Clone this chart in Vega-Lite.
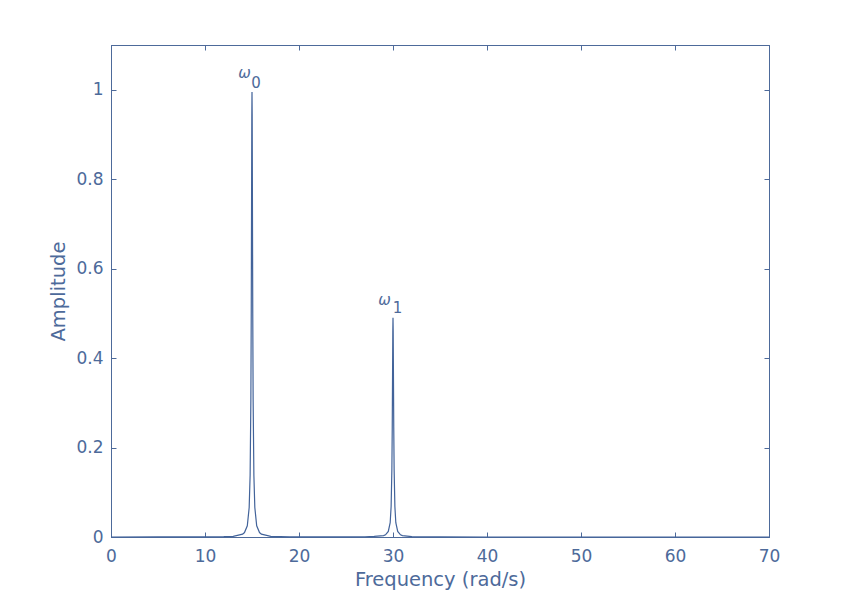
{
  "$schema": "https://vega.github.io/schema/vega-lite/v6.json",
  "width": 658,
  "height": 492,
  "autosize": "none",
  "padding": {"left": 111, "top": 45, "right": 81, "bottom": 67},
  "background": "white",
  "config": {
    "view": {"stroke": "#4d6a9a", "strokeWidth": 1},
    "font": "DejaVu Sans",
    "axis": {
      "grid": false,
      "domainColor": "#4d6a9a",
      "tickColor": "#4d6a9a",
      "labelColor": "#4d6a9a",
      "titleColor": "#4d6a9a",
      "labelFont": "DejaVu Sans",
      "titleFont": "DejaVu Sans",
      "labelFontSize": 17,
      "titleFontSize": 19.5,
      "titleFontWeight": "normal",
      "labelFlush": false,
      "tickSize": -5,
      "labelPadding": 13
    }
  },
  "datasets": {
    "spectrum": [
      {"freq": 0, "amp": 0.00003},
      {"freq": 5, "amp": 0.00006},
      {"freq": 10, "amp": 0.00026},
      {"freq": 12, "amp": 0.0007},
      {"freq": 13, "amp": 0.0016},
      {"freq": 14, "amp": 0.0064},
      {"freq": 14.2, "amp": 0.0099},
      {"freq": 14.5, "amp": 0.025},
      {"freq": 14.7, "amp": 0.066},
      {"freq": 14.8, "amp": 0.138},
      {"freq": 14.88, "amp": 0.308},
      {"freq": 14.92, "amp": 0.5},
      {"freq": 14.95, "amp": 0.719},
      {"freq": 14.98, "amp": 0.941},
      {"freq": 15, "amp": 0.995},
      {"freq": 15.02, "amp": 0.941},
      {"freq": 15.05, "amp": 0.719},
      {"freq": 15.08, "amp": 0.5},
      {"freq": 15.12, "amp": 0.308},
      {"freq": 15.2, "amp": 0.138},
      {"freq": 15.3, "amp": 0.066},
      {"freq": 15.5, "amp": 0.025},
      {"freq": 15.8, "amp": 0.0099},
      {"freq": 16, "amp": 0.0064},
      {"freq": 17, "amp": 0.0016},
      {"freq": 19, "amp": 0.0004},
      {"freq": 22, "amp": 0.00018},
      {"freq": 25, "amp": 0.0002},
      {"freq": 27, "amp": 0.0006},
      {"freq": 28, "amp": 0.0013},
      {"freq": 29, "amp": 0.0031},
      {"freq": 29.2, "amp": 0.0049},
      {"freq": 29.5, "amp": 0.0123},
      {"freq": 29.7, "amp": 0.032},
      {"freq": 29.8, "amp": 0.068},
      {"freq": 29.88, "amp": 0.151},
      {"freq": 29.92, "amp": 0.245},
      {"freq": 29.95, "amp": 0.352},
      {"freq": 29.98, "amp": 0.461},
      {"freq": 30, "amp": 0.49},
      {"freq": 30.02, "amp": 0.461},
      {"freq": 30.05, "amp": 0.352},
      {"freq": 30.08, "amp": 0.245},
      {"freq": 30.12, "amp": 0.151},
      {"freq": 30.2, "amp": 0.068},
      {"freq": 30.3, "amp": 0.032},
      {"freq": 30.5, "amp": 0.0123},
      {"freq": 30.8, "amp": 0.0049},
      {"freq": 31, "amp": 0.0031},
      {"freq": 32, "amp": 0.0008},
      {"freq": 35, "amp": 0.00015},
      {"freq": 40, "amp": 0.00005},
      {"freq": 50, "amp": 0.00002},
      {"freq": 60, "amp": 0.00001},
      {"freq": 70, "amp": 0.00001}
    ],
    "labels": [
      {"freq": 14.2, "amp": 1.027, "txt": "ω", "kind": "sym"},
      {"freq": 15.43, "amp": 1.004, "txt": "0", "kind": "sub"},
      {"freq": 29.1, "amp": 0.519, "txt": "ω", "kind": "sym"},
      {"freq": 30.48, "amp": 0.501, "txt": "1", "kind": "sub"}
    ]
  },
  "resolve": {"axis": {"x": "independent", "y": "independent"}},
  "layer": [
    {
      "data": {"name": "spectrum"},
      "mark": {"type": "line", "color": "#42639a", "strokeWidth": 1.2, "interpolate": "linear"},
      "encoding": {
        "x": {
          "field": "freq", "type": "quantitative",
          "scale": {"domain": [0, 70], "nice": false, "zero": false},
          "axis": {"values": [0, 10, 20, 30, 40, 50, 60, 70], "format": "d", "labelPadding": 16, "title": "Frequency (rad/s)", "titlePadding": 6}
        },
        "y": {
          "field": "amp", "type": "quantitative",
          "scale": {"domain": [0, 1.1], "nice": false},
          "axis": {"values": [0, 0.2, 0.4, 0.6, 0.8, 1], "format": "~g", "title": "Amplitude", "titlePadding": 7}
        }
      }
    },
    {
      "data": {"name": "spectrum"},
      "mark": {"type": "line", "strokeOpacity": 0},
      "encoding": {
        "x": {
          "field": "freq", "type": "quantitative",
          "axis": {"orient": "top", "values": [0, 10, 20, 30, 40, 50, 60, 70], "labels": false, "title": null}
        },
        "y": {
          "field": "amp", "type": "quantitative",
          "axis": {"orient": "right", "values": [0, 0.2, 0.4, 0.6, 0.8, 1], "labels": false, "title": null}
        }
      }
    },
    {
      "data": {"name": "labels"},
      "transform": [{"filter": "datum.kind == 'sym'"}],
      "mark": {"type": "text", "color": "#4d6a9a", "fontSize": 15, "fontStyle": "italic", "align": "center", "baseline": "alphabetic"},
      "encoding": {
        "x": {"field": "freq", "type": "quantitative", "axis": null},
        "y": {"field": "amp", "type": "quantitative", "axis": null},
        "text": {"field": "txt"}
      }
    },
    {
      "data": {"name": "labels"},
      "transform": [{"filter": "datum.kind == 'sub'"}],
      "mark": {"type": "text", "color": "#4d6a9a", "fontSize": 15, "align": "center", "baseline": "alphabetic"},
      "encoding": {
        "x": {"field": "freq", "type": "quantitative", "axis": null},
        "y": {"field": "amp", "type": "quantitative", "axis": null},
        "text": {"field": "txt"}
      }
    }
  ]
}
